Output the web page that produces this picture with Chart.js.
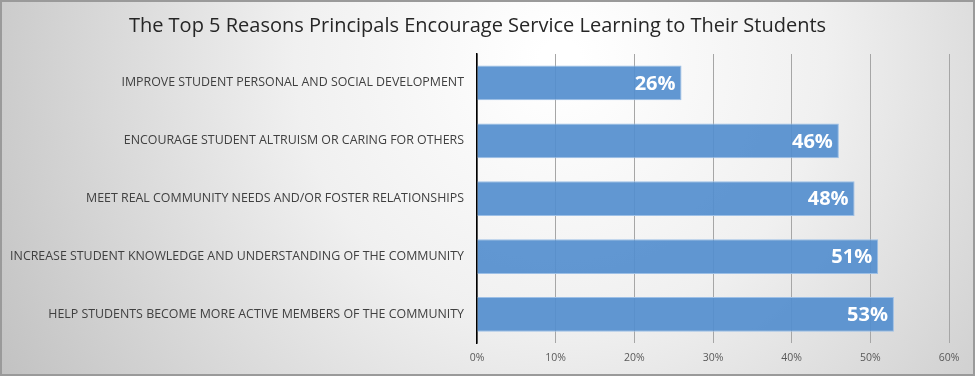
<!DOCTYPE html>
<html>
<head>
<meta charset="utf-8">
<script src="https://cdn.jsdelivr.net/npm/chart.js@4"></script>
<style>
  html, body { margin: 0; padding: 0; background: #fff; }
  #wrap { width: 975px; height: 376px; position: relative; }
</style>
</head>
<body>
<div id="wrap"><canvas id="chart" width="975" height="376"></canvas></div>
<script>
// Data
const reasons = [
  'IMPROVE STUDENT PERSONAL AND SOCIAL DEVELOPMENT',
  'ENCOURAGE STUDENT ALTRUISM OR CARING FOR OTHERS',
  'MEET REAL COMMUNITY NEEDS AND/OR FOSTER RELATIONSHIPS',
  'INCREASE STUDENT KNOWLEDGE AND UNDERSTANDING OF THE COMMUNITY',
  'HELP STUDENTS BECOME MORE ACTIVE MEMBERS OF THE COMMUNITY'
];
const shares = [26, 46, 48, 51, 53];
const titleText = 'The Top 5 Reasons Principals Encourage Service Learning to Their Students';

// Background: soft radial gradient with a thin grey frame
const backdrop = {
  id: 'backdrop',
  beforeDraw(chart) {
    const { ctx, width, height } = chart;
    ctx.save();
    const g = ctx.createRadialGradient(560, 60, 20, 560, 60, 720);
    g.addColorStop(0, '#ffffff');
    g.addColorStop(0.35, '#f0f0f0');
    g.addColorStop(1, '#b8b8b8');
    ctx.fillStyle = g;
    ctx.fillRect(0, 0, width, height);
    ctx.strokeStyle = '#9a9a9a';
    ctx.lineWidth = 2;
    ctx.strokeRect(1, 1, width - 2, height - 2);
    ctx.restore();
  }
};

// White value labels at the inner end of each bar
const valueLabels = {
  id: 'valueLabels',
  afterDatasetsDraw(chart) {
    const { ctx } = chart;
    const meta = chart.getDatasetMeta(0);
    ctx.save();
    ctx.fillStyle = '#ffffff';
    ctx.font = 'bold 20px "Open Sans", sans-serif';
    ctx.textAlign = 'right';
    ctx.textBaseline = 'middle';
    meta.data.forEach((bar, i) => {
      ctx.fillText(shares[i] + '%', bar.x - 6, bar.y + 1);
    });
    ctx.restore();
  }
};

new Chart(document.getElementById('chart'), {
  type: 'bar',
  data: {
    labels: reasons,
    datasets: [{
      data: shares,
      backgroundColor: 'rgba(84,142,206,0.92)',
      borderColor: '#9cbfe6',
      borderWidth: 1,
      barPercentage: 0.6,
      categoryPercentage: 1
    }]
  },
  options: {
    indexAxis: 'y',
    responsive: false,
    animation: false,
    layout: { padding: { left: 6, right: 26, top: 0, bottom: 4 } },
    plugins: {
      legend: { display: false },
      tooltip: { enabled: false },
      title: {
        display: true,
        text: titleText,
        color: '#262626',
        font: { family: '"Open Sans", sans-serif', size: 20, weight: 'normal' },
        padding: { top: 14, bottom: 16 }
      }
    },
    scales: {
      x: {
        min: 0,
        max: 60,
        ticks: {
          stepSize: 10,
          color: '#595959',
          font: { family: '"Open Sans", sans-serif', size: 10.5 },
          padding: 8,
          callback: v => v + '%'
        },
        grid: { color: '#a6a6a6', lineWidth: 1, drawTicks: false },
        border: { display: false }
      },
      y: {
        afterFit(scale) { scale.width = 471; },
        ticks: {
          color: '#404040',
          font: { family: '"Open Sans", sans-serif', size: 12.4 },
          padding: 5
        },
        grid: { display: false },
        border: { color: '#000000', width: 1.5 }
      }
    }
  },
  plugins: [backdrop, valueLabels]
});
</script>
</body>
</html>
